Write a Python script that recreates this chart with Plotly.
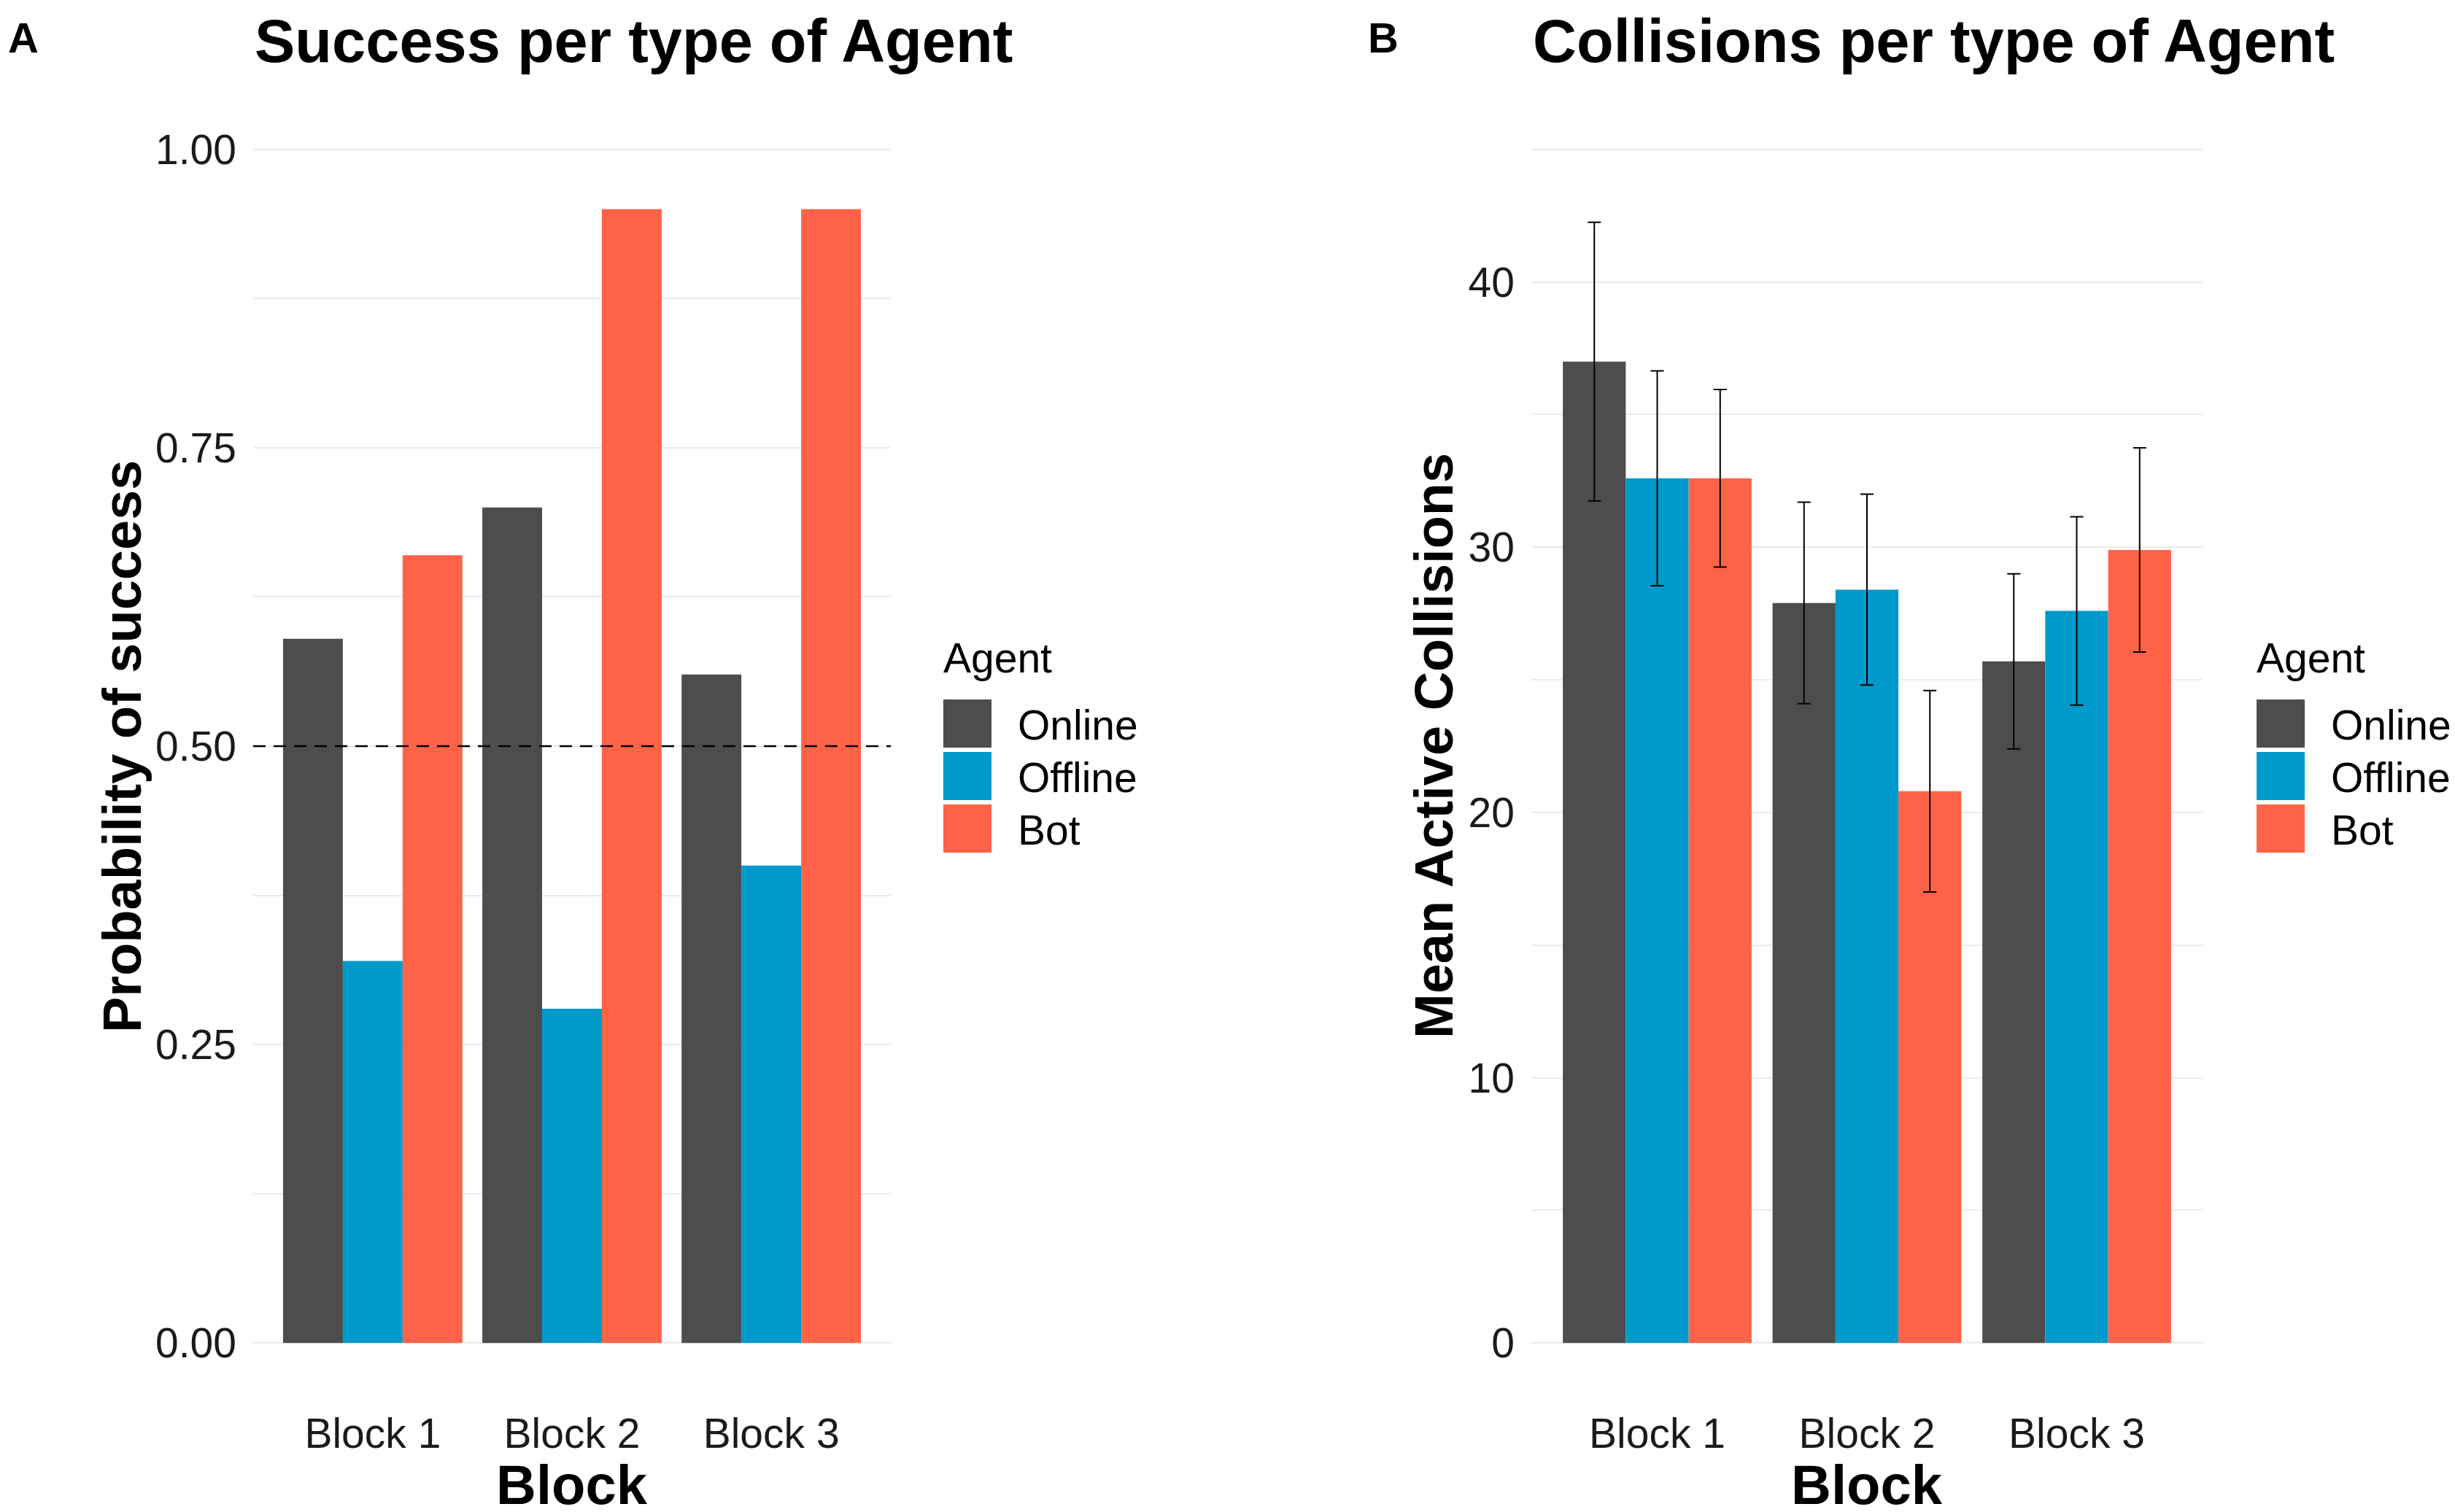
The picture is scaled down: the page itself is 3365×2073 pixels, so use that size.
import plotly.graph_objects as go
from plotly.subplots import make_subplots

# ── Data ──────────────────────────────────────────────────────────────────────
BLOCKS = ["Block 1", "Block 2", "Block 3"]
AGENTS = ["Online", "Offline", "Bot"]
COLORS = ["#4D4D4D", "#0099CC", "#FF6347"]

SUCCESS_ONLINE  = [0.59, 0.70, 0.56]
SUCCESS_OFFLINE = [0.32, 0.28, 0.40]
SUCCESS_BOT     = [0.66, 0.95, 0.95]

COLL_ONLINE  = [37.0, 27.9, 25.7]
COLL_OFFLINE = [32.6, 28.4, 27.6]
COLL_BOT     = [32.6, 20.8, 29.9]

ERR_ONLINE  = [5.25, 3.8, 3.3]
ERR_OFFLINE = [4.05, 3.6, 3.55]
ERR_BOT     = [3.35, 3.8, 3.85]

TITLES = ["Success per type of Agent", "Collisions per type of Agent"]
Y_TITLES = ["Probability of success", "Mean Active Collisions"]
TAGS = ["A", "B"]

# ── Layout helpers ────────────────────────────────────────────────────────────
W, H = 3365, 2073
FONT = "Liberation Sans, Arial, sans-serif"
GRID = "#EBEBEB"


def px(x):
    return x / W


def py(y):
    return 1 - y / H


fig = make_subplots(rows=1, cols=2)

success = [SUCCESS_ONLINE, SUCCESS_OFFLINE, SUCCESS_BOT]
coll = [COLL_ONLINE, COLL_OFFLINE, COLL_BOT]
errs = [ERR_ONLINE, ERR_OFFLINE, ERR_BOT]

for agent, color, vals in zip(AGENTS, COLORS, success):
    fig.add_trace(go.Bar(x=BLOCKS, y=vals, name=agent, marker_color=color,
                         marker_line_width=0, showlegend=False), row=1, col=1)

for agent, color, vals, err in zip(AGENTS, COLORS, coll, errs):
    fig.add_trace(go.Bar(x=BLOCKS, y=vals, name=agent, marker_color=color,
                         marker_line_width=0, showlegend=False,
                         error_y=dict(type="data", array=err, color="black",
                                      thickness=2, width=9)),
                  row=1, col=2)

# panel positions (in pixels of the full picture)
panels = [(339, 1213), (2091, 3011)]
top, bottom = 115, 1915

axis_common = dict(showline=False, ticks="", tickfont=dict(size=57, color="#1A1A1A", family=FONT))
fig.update_xaxes(**axis_common, showgrid=False, zeroline=False, range=[-0.6, 2.6],
                 ticklabelstandoff=4)
fig.update_yaxes(**axis_common, showgrid=True, gridcolor=GRID, gridwidth=2.4,
                 zeroline=True, zerolinecolor=GRID, zerolinewidth=2.4,
                 ticklabelstandoff=22)

fig.update_xaxes(domain=[px(panels[0][0]), px(panels[0][1])], row=1, col=1)
fig.update_xaxes(domain=[px(panels[1][0]), px(panels[1][1])], row=1, col=2)
fig.update_yaxes(domain=[py(bottom), py(top)])

fig.update_yaxes(range=[-0.05, 1.05], tick0=0, dtick=0.25, tickformat=".2f",
                 minor=dict(dtick=0.125, showgrid=True, gridcolor=GRID, gridwidth=1.6),
                 row=1, col=1)
fig.update_yaxes(range=[-2.25, 47.25], tick0=0, dtick=10,
                 minor=dict(dtick=5, showgrid=True, gridcolor=GRID, gridwidth=1.6),
                 row=1, col=2)

# chance line at 0.5
fig.add_shape(type="line", xref="x domain", yref="y", x0=0, x1=1, y0=0.5, y1=0.5,
              line=dict(color="black", width=2.6, dash="17px,11px"))

annotations = []
y_title_x = [159, 1957]
tag_x = [24, 1888]
legend_x = [1285, 3085]
for i in range(2):
    left, right = panels[i]
    annotations.append(dict(text=TITLES[i], x=px(left), y=py(49), xref="paper", yref="paper",
                            xanchor="left", yanchor="middle", showarrow=False,
                            font=dict(size=83, family=FONT, color="black", weight="bold")))
    annotations.append(dict(text=TAGS[i], x=px(tag_x[i]), y=py(44), xref="paper", yref="paper",
                            xanchor="center", yanchor="middle", showarrow=False,
                            font=dict(size=58, family=FONT, color="black", weight="bold")))
    annotations.append(dict(text="Block", x=px((left + right) / 2), y=py(2027),
                            xref="paper", yref="paper", xanchor="center", yanchor="middle",
                            showarrow=False,
                            font=dict(size=76, family=FONT, color="black", weight="bold")))
    annotations.append(dict(text=Y_TITLES[i], x=px(y_title_x[i]), y=py((top + bottom) / 2),
                            xref="paper", yref="paper", xanchor="center", yanchor="middle",
                            textangle=-90, showarrow=False,
                            font=dict(size=74, family=FONT, color="black", weight="bold")))

    # legend built by hand so the keys can be as big as ggplot's
    lx = legend_x[i]
    annotations.append(dict(text="Agent", x=px(lx - 2), y=py(894), xref="paper", yref="paper",
                            xanchor="left", yanchor="middle", showarrow=False,
                            font=dict(size=57, family=FONT, color="black")))
    for j, (agent, color) in enumerate(zip(AGENTS, COLORS)):
        k_top = 951 + j * 72
        fig.add_shape(type="rect", xref="paper", yref="paper",
                      x0=px(lx), x1=px(lx + 66), y0=py(k_top + 66), y1=py(k_top),
                      fillcolor=color, line_width=0)
        annotations.append(dict(text=agent, x=px(lx + 100), y=py(k_top + 35),
                                xref="paper", yref="paper", xanchor="left", yanchor="middle",
                                showarrow=False,
                                font=dict(size=57, family=FONT, color="black")))

fig.update_layout(
    width=W, height=H,
    margin=dict(l=0, r=0, t=0, b=0),
    paper_bgcolor="white", plot_bgcolor="white",
    barmode="group", bargap=0.1, bargroupgap=0,
    font=dict(family=FONT),
    annotations=annotations,
)

fig.write_html("out.html")
